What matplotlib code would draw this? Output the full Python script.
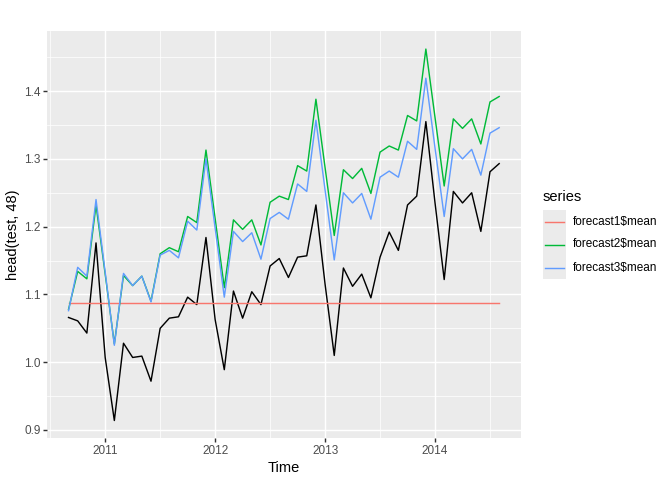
import numpy as np
import matplotlib.pyplot as plt
from matplotlib.lines import Line2D
from matplotlib.patches import Rectangle

# monthly series, Sep 2010 .. Aug 2014 (48 points)
start_year = 2010
start_month = 9
n_points = 48

test_vals = [1.066, 1.061, 1.043, 1.176, 1.007, 0.914, 1.028, 1.007, 1.009, 0.972, 1.050, 1.065,
             1.067, 1.096, 1.085, 1.184, 1.063, 0.989, 1.105, 1.065, 1.104, 1.085, 1.142, 1.153,
             1.125, 1.155, 1.157, 1.232, 1.115, 1.010, 1.139, 1.112, 1.130, 1.095, 1.155, 1.192,
             1.165, 1.232, 1.245, 1.355, 1.235, 1.122, 1.252, 1.235, 1.250, 1.193, 1.281, 1.293]
forecast1 = [1.088] * n_points
forecast2 = [1.078, 1.134, 1.123, 1.232, 1.130, 1.027, 1.128, 1.113, 1.127, 1.090, 1.160, 1.169,
             1.163, 1.215, 1.206, 1.313, 1.212, 1.110, 1.210, 1.196, 1.210, 1.173, 1.236, 1.245,
             1.240, 1.290, 1.282, 1.388, 1.287, 1.187, 1.284, 1.271, 1.286, 1.249, 1.310, 1.319,
             1.313, 1.364, 1.356, 1.462, 1.361, 1.260, 1.359, 1.345, 1.359, 1.322, 1.384, 1.392]
forecast3 = [1.076, 1.140, 1.127, 1.240, 1.133, 1.025, 1.131, 1.113, 1.127, 1.089, 1.158, 1.165,
             1.154, 1.208, 1.195, 1.300, 1.198, 1.096, 1.193, 1.178, 1.191, 1.152, 1.212, 1.221,
             1.211, 1.263, 1.252, 1.357, 1.254, 1.151, 1.250, 1.235, 1.249, 1.211, 1.273, 1.282,
             1.273, 1.326, 1.314, 1.419, 1.316, 1.215, 1.315, 1.300, 1.314, 1.276, 1.338, 1.346]

series_names = ["forecast1$mean", "forecast2$mean", "forecast3$mean"]
series_colors = ["#F8766D", "#00BA38", "#619CFF"]
x_ticks = [2011, 2012, 2013, 2014]
y_ticks = [0.9, 1.0, 1.1, 1.2, 1.3, 1.4]

t = start_year + (start_month - 1) / 12 + np.arange(n_points) / 12

plt.rcParams['font.family'] = ['Liberation Sans', 'DejaVu Sans']

W, H = 672, 480
fig = plt.figure(figsize=(W / 96, H / 96), dpi=96)
ax = fig.add_axes([47 / W, 1 - 438.4 / H, (520.7 - 47) / W, (438.4 - 30.5) / H])
ax.set_facecolor("#EBEBEB")

lw = 1.07
ax.plot(t, test_vals, color="black", lw=lw, zorder=3)
for vals, c in zip([forecast1, forecast2, forecast3], series_colors):
    ax.plot(t, vals, color=c, lw=lw, zorder=3)

ax.margins(x=0.05, y=0.05)
ax.set_xticks(x_ticks)
ax.set_xticklabels([str(v) for v in x_ticks])
ax.set_xticks([v - 0.5 for v in x_ticks] + [x_ticks[-1] + 0.5], minor=True)
ax.set_yticks(y_ticks)
ax.set_yticklabels([f"{v:.1f}" for v in y_ticks])
ax.set_yticks([v + 0.05 for v in y_ticks[:-1]] + [0.85, 1.45], minor=True)
ax.set_ylim(0.8876, 1.4894)

ax.grid(True, which="major", color="white", lw=1.07)
ax.grid(True, which="minor", color="white", lw=0.53)
ax.set_axisbelow(True)
for s in ax.spines.values():
    s.set_visible(False)
ax.tick_params(which="major", length=2.75, width=1.07, color="#333333",
               labelcolor="#4D4D4D", labelsize=8.8, pad=2.2)
ax.tick_params(which="minor", length=0)

ax.set_xlabel("Time", fontsize=11, labelpad=2.75)
ax.set_ylabel("head(test, 48)", fontsize=11, labelpad=2.75)

# legend drawn ggplot-style
def fx(px):
    return px / W

def fy(py):
    return 1 - py / H

fig.text(fx(543), fy(197), "series", fontsize=11, va="center", ha="left")
key_top = 210
key_h = 23
fig.add_artist(Rectangle((fx(543), fy(key_top + 3 * key_h)), fx(566) - fx(543),
                         3 * key_h / H, transform=fig.transFigure,
                         facecolor="#EBEBEB", edgecolor="none"))
for i, (name, c) in enumerate(zip(series_names, series_colors)):
    yc = key_top + key_h * (i + 0.5)
    fig.add_artist(Line2D([fx(545), fx(564)], [fy(yc), fy(yc)], color=c, lw=lw,
                          transform=fig.transFigure))
    fig.text(fx(573), fy(yc), name, fontsize=8.8, va="center", ha="left")

fig.savefig("out.png", dpi=96)
